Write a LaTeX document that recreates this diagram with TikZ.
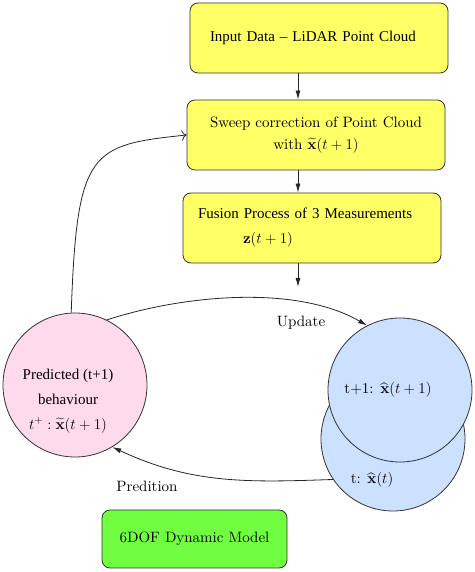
\RequirePackage{fix-cm}
\documentclass[tikz,border=0pt]{standalone}
\usepackage{amsmath}
\usepackage{fontspec}
\setmainfont{lmroman10-regular.otf}[BoldFont=lmroman10-bold.otf, ItalicFont=lmroman10-italic.otf]
\newfontfamily\tmsfont{Liberation Serif}[Ligatures=TeX]
\usetikzlibrary{arrows.meta}
\definecolor{procyellow}{RGB}{255,255,102}
\definecolor{predpink}{RGB}{255,218,236}
\definecolor{estblue}{RGB}{204,224,255}
\definecolor{modelgreen}{RGB}{112,255,64}
\begin{document}
\begin{tikzpicture}[x=1pt, y=1pt, font=\fontsize{15}{18}\selectfont,
    proc/.style = {draw=black!80, line width=0.8pt, rounded corners=8pt, fill=procyellow, minimum width=258pt, minimum height=70pt, inner xsep=15pt},
    state/.style = {draw=black!80, line width=0.8pt, circle, fill=estblue, minimum size=144pt, inner sep=0pt},
    tms/.style = {font=\tmsfont\fontsize{15}{18}\selectfont},
    flow/.style = {-{Latex[length=9pt,width=5pt]}, line width=0.8pt, black!85}]
    \useasboundingbox (0,0) rectangle (474,572);

    \node[proc, tms, text width=218pt, inner xsep=20pt, align=left] (input) at (319,534) {Input Data -- LiDAR Point Cloud};
    \node[proc, align=center] (sweep) at (316,437) {Sweep correction of Point Cloud\\[4pt] with $\widetilde{\mathbf{x}}(t+1)$};
    \node[proc, tms, text width=228pt, align=left] (fusion) at (312,344) {Fusion Process of 3 Measurements\\[7pt] \hspace*{45pt}$\mathbf{z}(t+1)$};
    \coordinate (axis) at (298,0);
    \coordinate (fusionout) at (298,285);

    \node[state, fill=predpink] (pred) at (75,187) {};
    \node[tms, align=center] (predtext) at (68,171) {Predicted (t+1)\\[7pt] behaviour\\[7pt] $t^+ : \widetilde{\mathbf{x}}(t+1)$};
    \node[state] (tnow) at (393,133) {};
    \node[state] (tplus) at (400,182) {};
    \node (tplustext) at (388,182) {t+1: $\widehat{\mathbf{x}}(t+1)$};
    \node (tnowtext) at (372,92) {t: $\widehat{\mathbf{x}}(t)$};
    \node (update) at (301,249) {Update};
    \node (predition) at (147,86) {Predition};
    \node[draw=black!80, line width=0.8pt, rounded corners=8pt, fill=modelgreen, minimum width=185pt, minimum height=58pt] (model) at (194.5,33) {6DOF Dynamic Model};

    \draw[flow] (input.south -| axis) -- (sweep.north -| axis);
    \draw[flow] (sweep.south -| axis) -- (fusion.north -| axis);
    \draw[flow] (fusion.south -| axis) -- (fusionout);

    \draw[-{To[length=5pt]}, line width=0.8pt, black!85] (pred.93) to[out=88, in=186, out distance=163pt, in distance=97pt] (sweep.west);
    \draw[flow] (pred.64) to[out=18, in=150, looseness=0.8] (tplus.117);
    \draw[flow] (tnow.214) to[out=182, in=-25] (pred.-59);
\end{tikzpicture}
\end{document}
